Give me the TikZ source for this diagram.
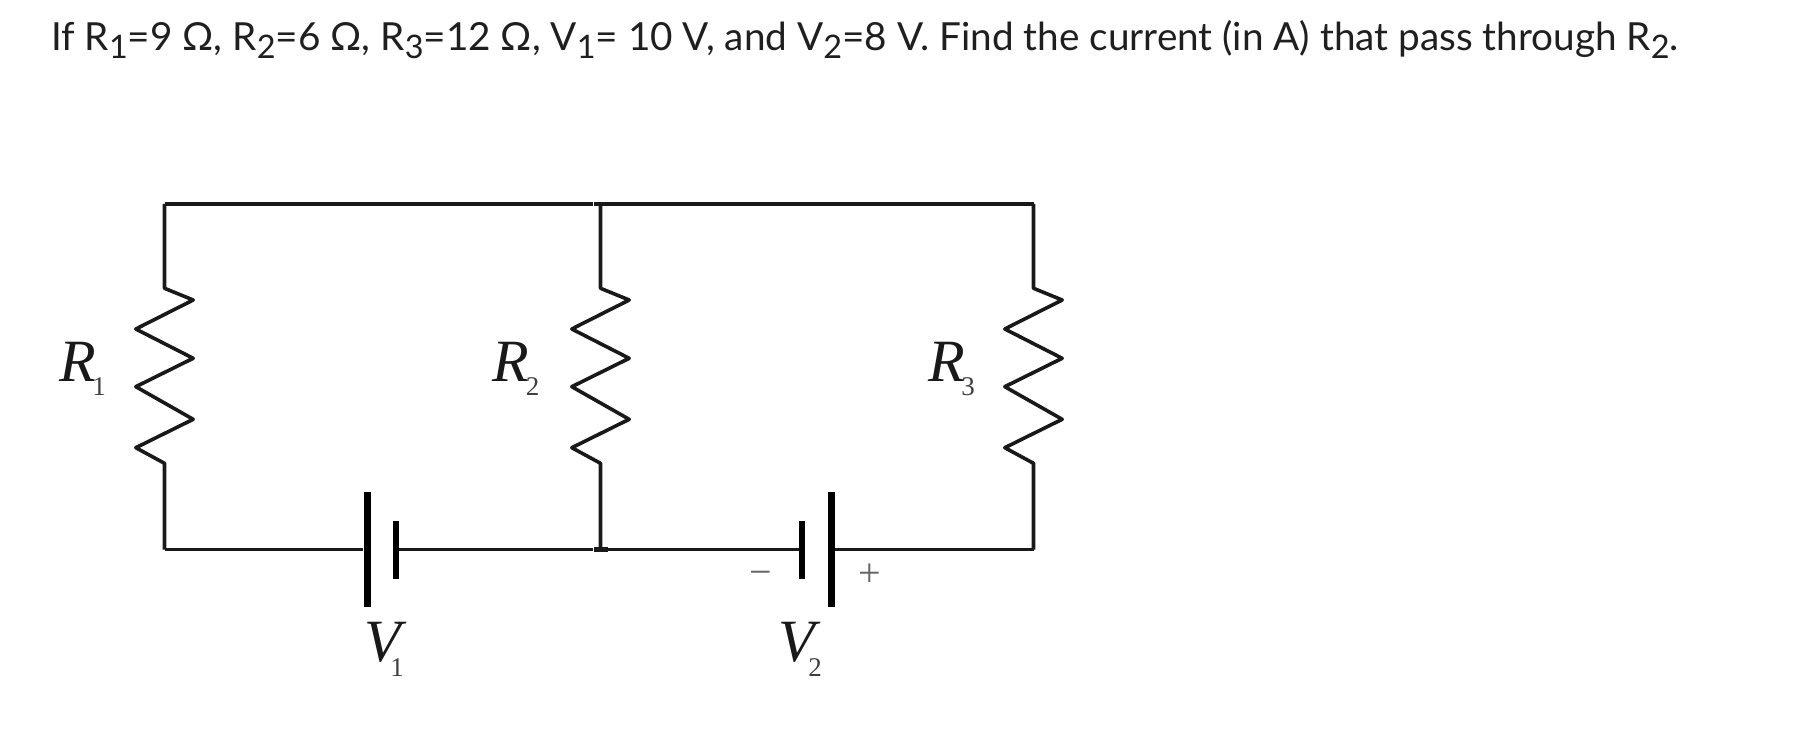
\documentclass[tikz,border=0pt]{standalone}
\usepackage{fontspec}
\setmainfont{Lato}
\newfontfamily\labelfont{Liberation Serif}
\newcommand{\titlesub}[1]{\raisebox{-8pt}{\fontsize{32.4}{32.4}\selectfont #1}}
\newcommand{\partlabel}[2]{{\labelfont\itshape #1}\kern-3.5pt\raisebox{-14pt}{\labelfont\fontsize{27}{27}\selectfont\color{black!75} #2}}
\usetikzlibrary{positioning}
\tikzset{
x=1pt, y=-1pt, % one unit is one pixel of the reference, y runs down
wire/.style={line width=3.6pt, color=black!90, line join=round},
longplate/.style={fill=black, inner sep=0pt, minimum width=7pt, minimum height=115pt}, % wide plate of a cell
shortplate/.style={fill=black, inner sep=0pt, minimum width=6pt, minimum height=58pt}, % narrow plate of a cell
joint/.style={fill=black!90, inner sep=0pt, minimum width=14pt, minimum height=4.2pt},
part/.style={anchor=base west, inner sep=0pt, text=black!90, font=\fontsize{60}{62}\selectfont},
sign/.style={inner sep=0pt, text=black!60, font=\labelfont\fontsize{40}{40}\selectfont},
}

\begin{document}
\begin{tikzpicture}
    \useasboundingbox (0,0) rectangle (1807,735);
    \node[anchor=base west, inner sep=0pt, text=black!88, font=\fontsize{38.7}{44}\selectfont] (title) at (51,51)
      {If R\titlesub{1}=9 Ω, R\titlesub{2}=6 Ω, R\titlesub{3}=12 Ω, V\titlesub{1}= 10 V, and V\titlesub{2}=8 V. Find the current (in A) that pass through R\titlesub{2}.};
    % corners of the circuit
    \coordinate (tl) at (164.5,204);
    \coordinate (br) at (1033.5,549.5);
    \node[joint] (tm) at (600.5,204) {};
    \node[joint] (bm) at (600.5,549.5) {};
    \coordinate (tr) at (tl -| br);
    \coordinate (bl) at (br -| tl);
    % cells
    \node[longplate] (v1long) at (367,549.5) {};
    \node[shortplate] (v1short) at (396,549.5) {};
    \node[shortplate] (v2short) at (802,549.5) {};
    \node[longplate] (v2long) at (831,549.5) {};
    \draw[wire] (tm) -- (tl) (tm) -- (tr)
    (bl) -- (v1long)
    (v1short) -- (bm)
    (bm) -- (v2short)
    (v2long) -- (br);
    % branches with a resistor
    \foreach \a/\b in {tl/bl, tm/bm, tr/br}
      \draw[wire] (\a.center) -- ++(0,84.3) -- ++(28.7,11.7) -- ++(-57.4,29) -- ++(57.4,29.3) -- ++(-57.4,28.4) -- ++(57.4,32.6) -- ++(-57.4,28.4) -- ++(28.7,15.6) -- (\b.center);
    \node[part] (r1) at (59,381.7) {\partlabel{R}{1}};
    \node[part] (r2) at (492.5,381.7) {\partlabel{R}{2}};
    \node[part] (r3) at (928,381.7) {\partlabel{R}{3}};
    \node[part] (v1) at (364,661.5) {\partlabel{V}{\kern-7pt\raisebox{-1pt}{1}}};
    \node[part] (v2) at (778,661.5) {\partlabel{V}{\kern-3pt\raisebox{-1pt}{2}}};
    \node[sign] (minus) at (760.5,578) {−};
    \node[sign] (plus) at (870,575) {+};
\end{tikzpicture}
\end{document}
